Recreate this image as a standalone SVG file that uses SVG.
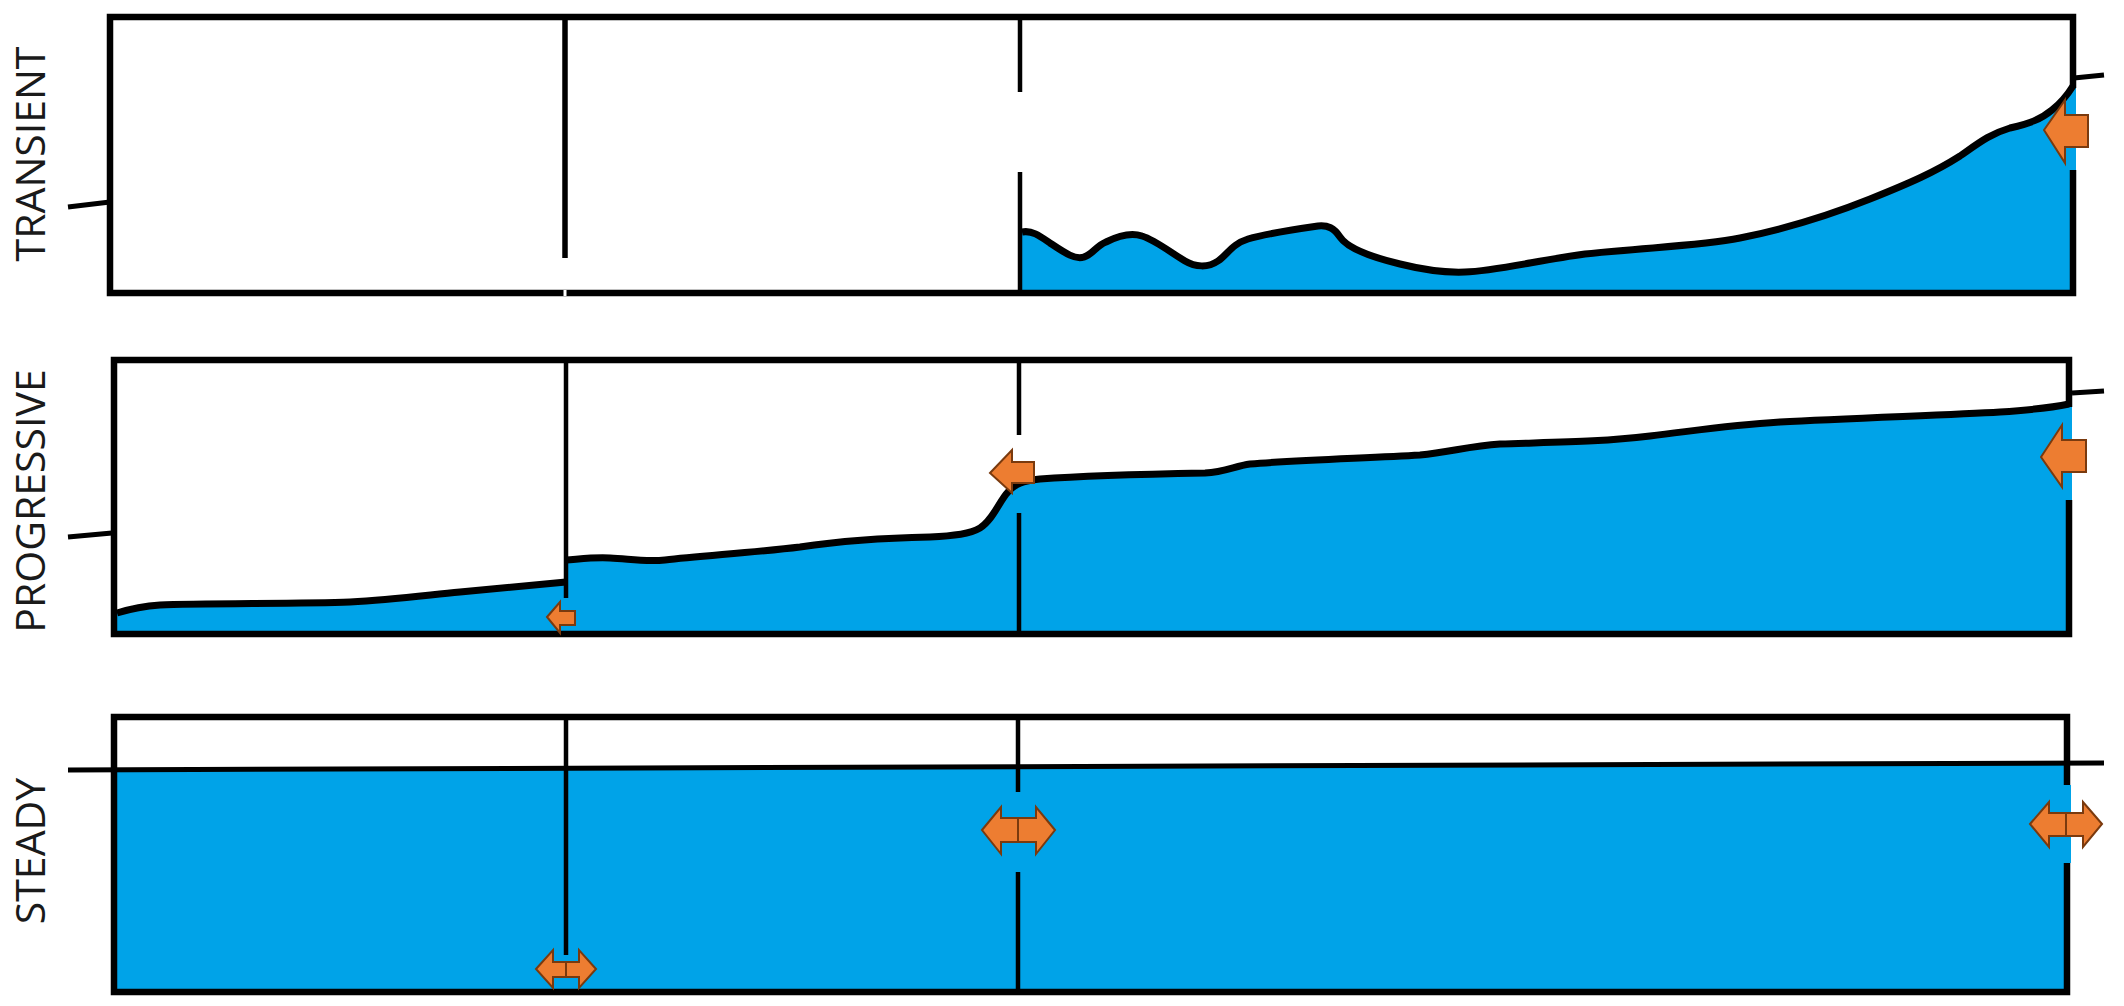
<svg xmlns="http://www.w3.org/2000/svg" width="2124" height="1006" viewBox="0 0 2124 1006">
<style>
.water{fill:#00A3E8;stroke:none}
.box{fill:none;stroke:#000;stroke-width:6.5;stroke-linejoin:miter}
.surf{fill:none;stroke:#000;stroke-width:7;stroke-linecap:butt;stroke-linejoin:round}
.div{fill:none;stroke:#000;stroke-width:4.5}
.tick{fill:none;stroke:#000;stroke-width:5}
.arr{fill:#ED7D31;stroke:#7A3A0E;stroke-width:2;stroke-linejoin:miter}
.lbl{font-family:"Open Sans","Liberation Sans",sans-serif;font-size:41px;fill:#1a1a1a;text-anchor:middle}
</style>
<rect width="2124" height="1006" fill="#fff"/>

<g id="panel-transient">
  <path class="water" d="M1020 232 L1022 232 C1032 230 1040 236 1050 243 C1065 253 1075 260 1084 257 C1092 255 1096 246 1106 242 C1118 236 1130 232 1142 236 C1155 240 1170 252 1185 261 C1195 267 1208 268 1218 261 C1228 254 1232 244 1248 239 C1265 234 1290 230 1318 226 C1328 225 1334 228 1340 237 C1348 249 1375 258 1400 264 C1420 269 1440 273 1465 272 C1495 271 1540 260 1585 254 C1650 247 1700 246 1740 238 C1790 228 1830 215 1870 199 C1910 183 1935 172 1960 156 C1980 142 1990 134 2010 128 C2030 123 2040 120 2052 110 C2062 102 2068 94 2073 86 L2076 88 L2076 170 L2073 170 L2073 293 L1020 293 Z"/>
  <path class="surf" d="M1022 232 C1032 230 1040 236 1050 243 C1065 253 1075 260 1084 257 C1092 255 1096 246 1106 242 C1118 236 1130 232 1142 236 C1155 240 1170 252 1185 261 C1195 267 1208 268 1218 261 C1228 254 1232 244 1248 239 C1265 234 1290 230 1318 226 C1328 225 1334 228 1340 237 C1348 249 1375 258 1400 264 C1420 269 1440 273 1465 272 C1495 271 1540 260 1585 254 C1650 247 1700 246 1740 238 C1790 228 1830 215 1870 199 C1910 183 1935 172 1960 156 C1980 142 1990 134 2010 128 C2030 123 2040 120 2052 110 C2062 102 2068 94 2073 86"/>
  <path class="box" d="M2073 88 L2073 17 L110 17 L110 293 L2073 293 L2073 170"/>
  <line class="div" x1="565" y1="17" x2="565" y2="258" style="stroke-width:5.5"/>
  <rect x="563.5" y="290" width="3" height="6" fill="#fff"/>
  <line class="div" x1="1020" y1="17" x2="1020" y2="92"/>
  <line class="div" x1="1020" y1="172" x2="1020" y2="293"/>
  <path class="tick" d="M68 207 L110 202"/>
  <path class="tick" d="M2074 78 L2104 75"/>
  <polygon class="arr" points="2044,130 2065,100 2065,115 2088,115 2088,147 2065,147 2065,163"/>
  <text class="lbl" transform="translate(45,154) rotate(-90)">TRANSIENT</text>
</g>

<g id="panel-progressive">
  <path class="water" d="M114 614 L117 613 C130 609 145 606 160 605 C200 603 300 604 350 602 C390 600 420 596 460 592 C500 588 535 585 566 582 L566 560 C580 559 595 557 610 558 C630 559 645 562 665 560 C700 556 760 552 800 547 C840 541 880 538 930 537 C955 536 970 534 980 528 C993 520 1000 500 1008 492 C1015 484 1022 481 1040 479 C1080 476 1150 474 1205 473 C1225 472 1235 466 1250 464 C1300 460 1370 458 1420 455 C1450 452 1470 446 1500 444 C1560 442 1600 442 1650 436 C1700 430 1730 425 1780 422 C1850 418 1950 415 2000 412 C2030 410 2050 408 2069 404 L2072 407 L2072 500 L2069 500 L2069 634 L114 634 Z"/>
  <path class="surf" d="M117 613 C130 609 145 606 160 605 C200 603 300 604 350 602 C390 600 420 596 460 592 C500 588 535 585 566 582"/>
  <path class="surf" d="M566 560 C580 559 595 557 610 558 C630 559 645 562 665 560 C700 556 760 552 800 547 C840 541 880 538 930 537 C955 536 970 534 980 528 C993 520 1000 500 1008 492 C1015 484 1022 481 1040 479 C1080 476 1150 474 1205 473 C1225 472 1235 466 1250 464 C1300 460 1370 458 1420 455 C1450 452 1470 446 1500 444 C1560 442 1600 442 1650 436 C1700 430 1730 425 1780 422 C1850 418 1950 415 2000 412 C2030 410 2050 408 2069 404"/>
  <path class="box" d="M2069 407 L2069 360 L114 360 L114 634 L2069 634 L2069 500"/>
  <line class="div" x1="566" y1="360" x2="566" y2="598"/>
  <line class="div" x1="1019" y1="360" x2="1019" y2="435"/>
  <line class="div" x1="1019" y1="513" x2="1019" y2="634"/>
  <path class="tick" d="M68 537 L112 533"/>
  <path class="tick" d="M2072 393 L2104 391"/>
  <polygon class="arr" points="547,617 560,602 560,611 575,611 575,625 560,625 560,633"/>
  <polygon class="arr" points="990,473 1012,450 1012,462 1034,462 1034,483 1012,483 1012,493"/>
  <polygon class="arr" points="2041,457 2062,425 2062,440 2086,440 2086,472 2062,472 2062,487"/>
  <text class="lbl" transform="translate(45,501) rotate(-90)">PROGRESSIVE</text>
</g>

<g id="panel-steady">
  <path class="water" d="M114 770 L2067 763 L2067 785 L2071 785 L2071 863 L2067 863 L2067 992 L114 992 Z"/>
  <path class="box" d="M2067 785 L2067 717 L114 717 L114 992 L2067 992 L2067 863"/>
  <path class="tick" d="M68 770 L2104 763"/>
  <line class="div" x1="566" y1="717" x2="566" y2="955"/>
  <line class="div" x1="1018" y1="717" x2="1018" y2="792"/>
  <line class="div" x1="1018" y1="872" x2="1018" y2="992"/>
  <polygon class="arr" points="536,969 553,950 553,962 566,962 566,977 553,977 553,988"/>
  <polygon class="arr" points="596,969 579,950 579,962 566,962 566,977 579,977 579,988"/>
  <polygon class="arr" points="982,830 1001,807 1001,818 1018,818 1018,842 1001,842 1001,854"/>
  <polygon class="arr" points="1055,830 1036,807 1036,818 1018,818 1018,842 1036,842 1036,854"/>
  <polygon class="arr" points="2030,824 2049,802 2049,813 2066,813 2066,836 2049,836 2049,847"/>
  <polygon class="arr" points="2102,824 2083,802 2083,813 2066,813 2066,836 2083,836 2083,847"/>
  <text class="lbl" transform="translate(45,851) rotate(-90)">STEADY</text>
</g>
</svg>
